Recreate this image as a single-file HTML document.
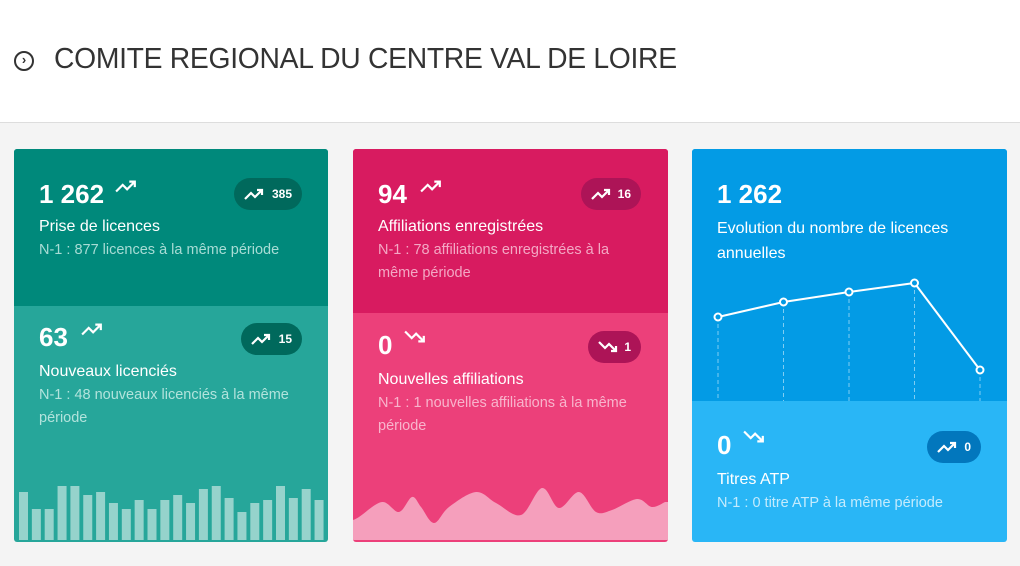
<!DOCTYPE html>
<html><head><meta charset="utf-8"><style>
*{box-sizing:border-box;margin:0;padding:0}
body{width:1020px;height:566px;overflow:hidden;background:#f4f4f4;font-family:"Liberation Sans",sans-serif;position:relative}
.hdr{position:absolute;left:0;top:0;width:1020px;height:123px;background:#fff;border-bottom:1px solid #ddd}
.hdr h1{position:absolute;left:54px;top:42px;font-size:28.3px;font-weight:400;color:#333;letter-spacing:-0.3px}
.ic{position:absolute;left:14px;top:51px;width:20px;height:20px;border:2.5px solid #333;border-radius:50%;font-size:13px;font-weight:bold;text-align:center;line-height:14px;color:#333}
.card{position:absolute;top:149px;height:393px;border-radius:3px;overflow:hidden}
.sec{position:absolute;left:0;width:100%;color:#fff}
.num{position:absolute;left:25px;font-size:26px;font-weight:bold}
.num svg{position:absolute;top:-1px}
.ttl{position:absolute;left:25px;font-size:16px}
.sub{position:absolute;left:25px;right:20px;font-size:14.5px;line-height:23px}
.pill{position:absolute;height:32px;border-radius:16px;font-size:12px;font-weight:bold;color:#fff;line-height:32px;text-align:right;padding-right:10px}
.pill svg{position:absolute;left:10px;top:9px}
</style></head><body>
<div class="hdr">
<div class="ic">›</div>
<h1>COMITE REGIONAL DU CENTRE VAL DE LOIRE</h1>
</div>

<div class="card" style="left:14px;width:314px;background:#26a69a">
 <div class="sec" style="top:0;height:157px;background:#00897b">
  <div class="num" style="top:30px">1 262<svg style="left:76px" width="22" height="16" viewBox="0 0 20 14"><path d="M1 12 L7 6 L11 10 L18 3 M13 3 L18 3 L18 8" stroke="#fff" stroke-width="2" fill="none"/></svg></div>
  <div class="pill" style="left:220px;top:29px;width:68px;background:#00695c"><svg width="20" height="14" viewBox="0 0 20 14"><path d="M1 12 L7 6 L11 10 L18 3 M13 3 L18 3 L18 8" stroke="#fff" stroke-width="2.2" fill="none"/></svg>385</div>
  <div class="ttl" style="top:69px">Prise de licences</div>
  <div class="sub" style="top:90px;color:#a8dcd5">N-1 : 877 licences à la même période</div>
 </div>
 <div class="sec" style="top:157px;height:236px">
  <div class="num" style="top:16px">63<svg style="left:42px" width="22" height="16" viewBox="0 0 20 14"><path d="M1 12 L7 6 L11 10 L18 3 M13 3 L18 3 L18 8" stroke="#fff" stroke-width="2" fill="none"/></svg></div>
  <div class="pill" style="left:227px;top:17px;width:61px;background:#00695c"><svg width="20" height="14" viewBox="0 0 20 14"><path d="M1 12 L7 6 L11 10 L18 3 M13 3 L18 3 L18 8" stroke="#fff" stroke-width="2.2" fill="none"/></svg>15</div>
  <div class="ttl" style="top:57px">Nouveaux licenciés</div>
  <div class="sub" style="top:78px;color:#b2e3dc">N-1 : 48 nouveaux licenciés à la même période</div>
 </div>
 <svg id="bars" style="position:absolute;left:0;top:0" width="314" height="393"></svg>
</div>

<div class="card" style="left:353px;width:315px;background:#ec407a">
 <div class="sec" style="top:0;height:164px;background:#d81b60">
  <div class="num" style="top:30px">94<svg style="left:42px" width="22" height="16" viewBox="0 0 20 14"><path d="M1 12 L7 6 L11 10 L18 3 M13 3 L18 3 L18 8" stroke="#fff" stroke-width="2" fill="none"/></svg></div>
  <div class="pill" style="left:228px;top:29px;width:60px;background:#ad1457"><svg width="20" height="14" viewBox="0 0 20 14"><path d="M1 12 L7 6 L11 10 L18 3 M13 3 L18 3 L18 8" stroke="#fff" stroke-width="2.2" fill="none"/></svg>16</div>
  <div class="ttl" style="top:69px">Affiliations enregistrées</div>
  <div class="sub" style="top:90px;color:#f3a8c4">N-1 : 78 affiliations enregistrées à la même période</div>
 </div>
 <div class="sec" style="top:164px;height:229px">
  <div class="num" style="top:17px">0<svg style="left:26px" width="22" height="16" viewBox="0 0 20 14"><path d="M1 2 L7 8 L11 4 L18 11 M13 11 L18 11 L18 6" stroke="#fff" stroke-width="2" fill="none"/></svg></div>
  <div class="pill" style="left:235px;top:18px;width:53px;background:#ad1457"><svg width="20" height="14" viewBox="0 0 20 14"><path d="M1 2 L7 8 L11 4 L18 11 M13 11 L18 11 L18 6" stroke="#fff" stroke-width="2.2" fill="none"/></svg>1</div>
  <div class="ttl" style="top:58px">Nouvelles affiliations</div>
  <div class="sub" style="top:79px;color:#f8b4cc">N-1 : 1 nouvelles affiliations à la même période</div>
 </div>
 <svg id="wave" style="position:absolute;left:0;top:0" width="315" height="393"></svg>
</div>

<div class="card" style="left:692px;width:315px;background:#29b6f6">
 <div class="sec" style="top:0;height:252px;background:#039be5">
  <div class="num" style="top:30px">1 262</div>
  <div class="sub" style="top:67px;font-size:16px;line-height:25px;color:#fff">Evolution du nombre de licences annuelles</div>
 </div>
 <div class="sec" style="top:252px;height:141px">
  <div class="num" style="top:29px">0<svg style="left:26px" width="22" height="16" viewBox="0 0 20 14"><path d="M1 2 L7 8 L11 4 L18 11 M13 11 L18 11 L18 6" stroke="#fff" stroke-width="2" fill="none"/></svg></div>
  <div class="pill" style="left:235px;top:30px;width:54px;background:#0277bd"><svg width="20" height="14" viewBox="0 0 20 14"><path d="M1 12 L7 6 L11 10 L18 3 M13 3 L18 3 L18 8" stroke="#fff" stroke-width="2.2" fill="none"/></svg>0</div>
  <div class="ttl" style="top:70px">Titres ATP</div>
  <div class="sub" style="top:91px;color:#c4ebfd">N-1 : 0 titre ATP à la même période</div>
 </div>
 <svg id="line" style="position:absolute;left:0;top:0" width="315" height="393"></svg>
</div>

<script>
const barValues=[48,31,31,54,54,45,48,37,31,40,31,40,45,37,51,54,42,28,37,40,54,42,51,40];
const waveValues=[20,23,38,28,43,33,17,33,48,37,25,52,32,48,28,30,41,33,38];
const waveX=[0,6,29,46,59,68,81,96,123,143,168,189,206,226,243,259,284,299,312];
const lineYears=['2019','2020','2021','2022','2023'];
const lineValues=[84,99,109,118,31];
const NS='http://www.w3.org/2000/svg';
(function(){
 const svg=document.getElementById('bars');
 const base=391, x0=5, step=12.85, w=9, scale=1;
 barValues.forEach((v,i)=>{
  const r=document.createElementNS(NS,'rect');
  r.setAttribute('x',x0+i*step);r.setAttribute('y',base-v*scale);
  r.setAttribute('width',w);r.setAttribute('height',v*scale);
  r.setAttribute('fill','#96d3cc');
  
  
  svg.appendChild(r);
 });
})();
(function(){
 const svg=document.getElementById('wave');
 const base=391;
 const pts=waveValues.map((v,i)=>[waveX[i],base-v]);
 let d='M0 '+base+' L'+pts[0][0]+' '+pts[0][1];
 for(let i=0;i<pts.length-1;i++){
  const p0=pts[i-1]||pts[i],p1=pts[i],p2=pts[i+1],p3=pts[i+2]||p2;
  const c1=[p1[0]+(p2[0]-p0[0])/6,p1[1]+(p2[1]-p0[1])/6];
  const c2=[p2[0]-(p3[0]-p1[0])/6,p2[1]-(p3[1]-p1[1])/6];
  d+=' C'+c1+' '+c2+' '+p2;
 }
 d+=' L315 '+(base-waveValues[waveValues.length-1])+' L315 '+base+' Z';
 const p=document.createElementNS(NS,'path');
 p.setAttribute('d',d);p.setAttribute('fill','#f59fbc');
 
 
 svg.appendChild(p);
})();
(function(){
 const svg=document.getElementById('line');
 const base=252, x0=26, step=65.5;
 const X=i=>x0+i*step, Y=v=>base-v;
 lineValues.forEach((v,i)=>{
  const l=document.createElementNS(NS,'line');
  l.setAttribute('x1',X(i));l.setAttribute('x2',X(i));l.setAttribute('y1',Y(v));l.setAttribute('y2',base);
  l.setAttribute('stroke','#7fcdf2');l.setAttribute('stroke-dasharray','4 3');
  
  
  svg.appendChild(l);
 });
 const pl=document.createElementNS(NS,'polyline');
 pl.setAttribute('points',lineValues.map((v,i)=>X(i)+','+Y(v)).join(' '));
 pl.setAttribute('fill','none');pl.setAttribute('stroke','#fff');pl.setAttribute('stroke-width','2');
 
 
 svg.appendChild(pl);
 lineValues.forEach((v,i)=>{
  const c=document.createElementNS(NS,'circle');
  c.setAttribute('cx',X(i));c.setAttribute('cy',Y(v));c.setAttribute('r',3.5);
  c.setAttribute('fill','#039be5');c.setAttribute('stroke','#fff');c.setAttribute('stroke-width','2');
  
  
  svg.appendChild(c);
 });
})();
</script>
</body></html>
